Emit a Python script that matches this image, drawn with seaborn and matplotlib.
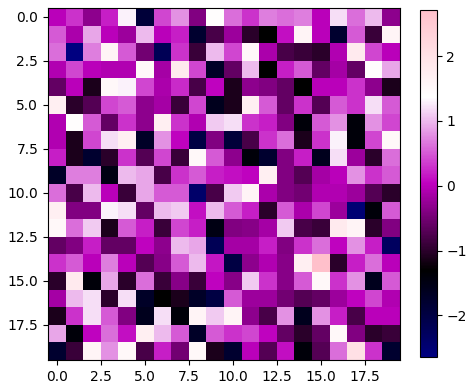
import numpy as np
import matplotlib
matplotlib.use("Agg")
import matplotlib.pyplot as plt
import seaborn as sns

# 20x20 grid of values, row by row
row_00 = [0.0, 0.3, -0.3, 0.2, 1.3, -1.9, 0.4, 0.8, -0.4, 1.4, 0.6, 0.3, 0.7, 0.6, 0.7, 0.0, 1.2, 0.6, 1.0, -0.3]
row_01 = [0.5, -0.1, 0.9, 0.0, -0.2, 1.0, 0.0, 0.2, -1.8, -0.8, -0.2, -1.0, -1.3, 0.1, 1.6, 0.0, -1.8, 0.5, -0.9, 1.6]
row_02 = [0.6, -2.64, 0.7, 1.6, 0.5, -0.5, -2.2, 0.3, -0.9, 1.0, 0.4, 1.5, -0.1, -0.8, -0.9, -1.0, -0.05, 1.8, 0.4, 0.0]
row_03 = [-0.05, 0.4, 0.0, -0.05, -0.05, 1.5, -0.15, 1.8, 0.4, -1.7, -0.6, 1.0, -1.3, 0.2, 0.5, -0.6, -0.15, -0.6, 1.4, 0.9]
row_04 = [-0.6, 0.0, -1.1, 1.5, 1.3, 0.4, -0.1, 0.25, -0.8, 0.05, -1.1, -0.3, -0.4, -0.6, -1.3, 0.0, 0.0, 0.3, -0.3, -1.1]
row_05 = [1.7, -1.0, -0.7, 0.4, 0.5, -0.3, -0.15, -0.9, 0.4, -1.6, -1.1, 1.7, 0.5, -0.6, 0.3, -0.7, 0.5, 0.3, 1.2, 0.5]
row_06 = [-0.05, 1.4, 0.5, -0.6, 0.3, -0.3, 1.7, 0.3, -0.05, 1.1, 1.2, 0.3, 0.2, -0.4, -1.4, 0.5, 0.8, -1.4, 0.8, 0.4]
row_07 = [-0.05, -1.1, 0.4, 1.2, 1.7, -1.7, 0.8, 0.05, -2.0, -0.4, -1.9, -0.8, 0.3, 0.6, -1.1, 0.3, 1.3, -1.4, 0.4, 1.5]
row_08 = [0.2, -1.1, -1.8, -1.0, 0.3, -0.7, 0.4, -0.9, 1.5, 0.5, -0.3, -1.4, -1.8, -0.4, 0.2, -1.6, 1.2, -0.2, -1.0, 0.6]
row_09 = [-1.7, 0.7, 0.7, -1.5, 1.0, 0.9, -0.8, 0.3, 0.5, 0.2, 0.1, 0.05, 1.7, -0.4, -0.7, -0.15, 0.0, 0.8, 0.3, 0.5]
row_10 = [0.6, -0.8, 1.0, 0.0, -0.9, 0.9, 0.5, 0.5, -2.4, -0.8, 1.1, 1.6, -0.1, -0.4, -0.5, -0.05, -0.05, -0.2, -0.7, -1.0]
row_11 = [1.7, -0.4, -0.4, 1.3, 1.2, -0.6, 1.0, 1.1, 0.1, 1.0, 0.5, 0.2, -1.0, 0.5, -0.1, 0.4, -0.2, -2.5, -1.4, 0.5]
row_12 = [1.5, 0.6, 1.1, -1.1, 0.5, 0.2, -0.9, 0.4, 0.2, -1.5, -0.4, -0.35, -0.15, 1.1, -0.8, -0.9, 1.8, 1.6, -1.0, -0.4]
row_13 = [-0.6, -0.4, 0.2, -0.6, -0.6, 0.05, -0.3, 1.0, 0.9, -2.2, -0.15, -0.15, 0.2, -0.4, 0.3, 0.6, 0.05, 0.8, 0.2, -2.3]
row_14 = [0.3, 0.5, 0.0, 0.7, 0.0, -0.7, -0.35, 0.5, 1.0, 0.15, -2.0, -0.3, -0.05, -0.35, 1.7, 2.71, -1.0, 0.2, 0.6, 0.0]
row_15 = [-1.0, 1.8, -1.4, 0.9, -1.0, 0.6, -0.9, -0.35, -0.9, 0.05, -0.35, 1.1, 0.3, -0.35, 0.5, 1.5, 0.3, 0.8, -1.6, 0.5]
row_16 = [-0.15, 1.0, 1.2, -1.0, 1.2, -1.7, -1.3, -1.1, -1.7, -2.0, 0.5, -0.2, -0.2, -0.5, -0.7, -0.6, -0.2, 0.05, 0.4, -0.05]
row_17 = [-1.1, 0.3, 1.2, 0.5, -0.4, -1.6, 1.2, -1.4, 1.6, 1.1, 1.6, -0.3, -0.8, 0.8, -1.6, 0.8, 0.2, -0.8, 0.0, 0.0]
row_18 = [0.9, -1.4, 0.05, 0.6, 0.1, 1.7, 1.0, 0.5, -1.7, 0.5, 0.3, 0.4, 0.05, -0.6, -1.0, -0.6, 1.5, -0.4, -1.0, -0.9]
row_19 = [-1.8, -0.9, 1.6, 0.8, 1.5, -0.8, 0.2, -0.5, 1.5, -1.1, -1.8, 0.0, -0.7, 0.1, -1.4, -0.7, 0.6, 2.0, 0.3, -1.8]

grid = np.array([row_00, row_01, row_02, row_03, row_04, row_05, row_06, row_07, row_08, row_09,
                 row_10, row_11, row_12, row_13, row_14, row_15, row_16, row_17, row_18, row_19])

# navy -> black -> magenta -> white -> pink
cmap = sns.blend_palette(["navy", "black", "m", "white", "pink"], as_cmap=True)

fig = plt.figure(figsize=(4.74, 3.89), dpi=100)
ax = fig.add_axes([48 / 474, 29 / 389, 352 / 474, 352 / 389])
cax = fig.add_axes([419.5 / 474, 32 / 389, 17 / 474, 347 / 389])

im = ax.imshow(grid, cmap=cmap)
fig.colorbar(im, cax=cax)

fig.savefig("out.png", dpi=100)
